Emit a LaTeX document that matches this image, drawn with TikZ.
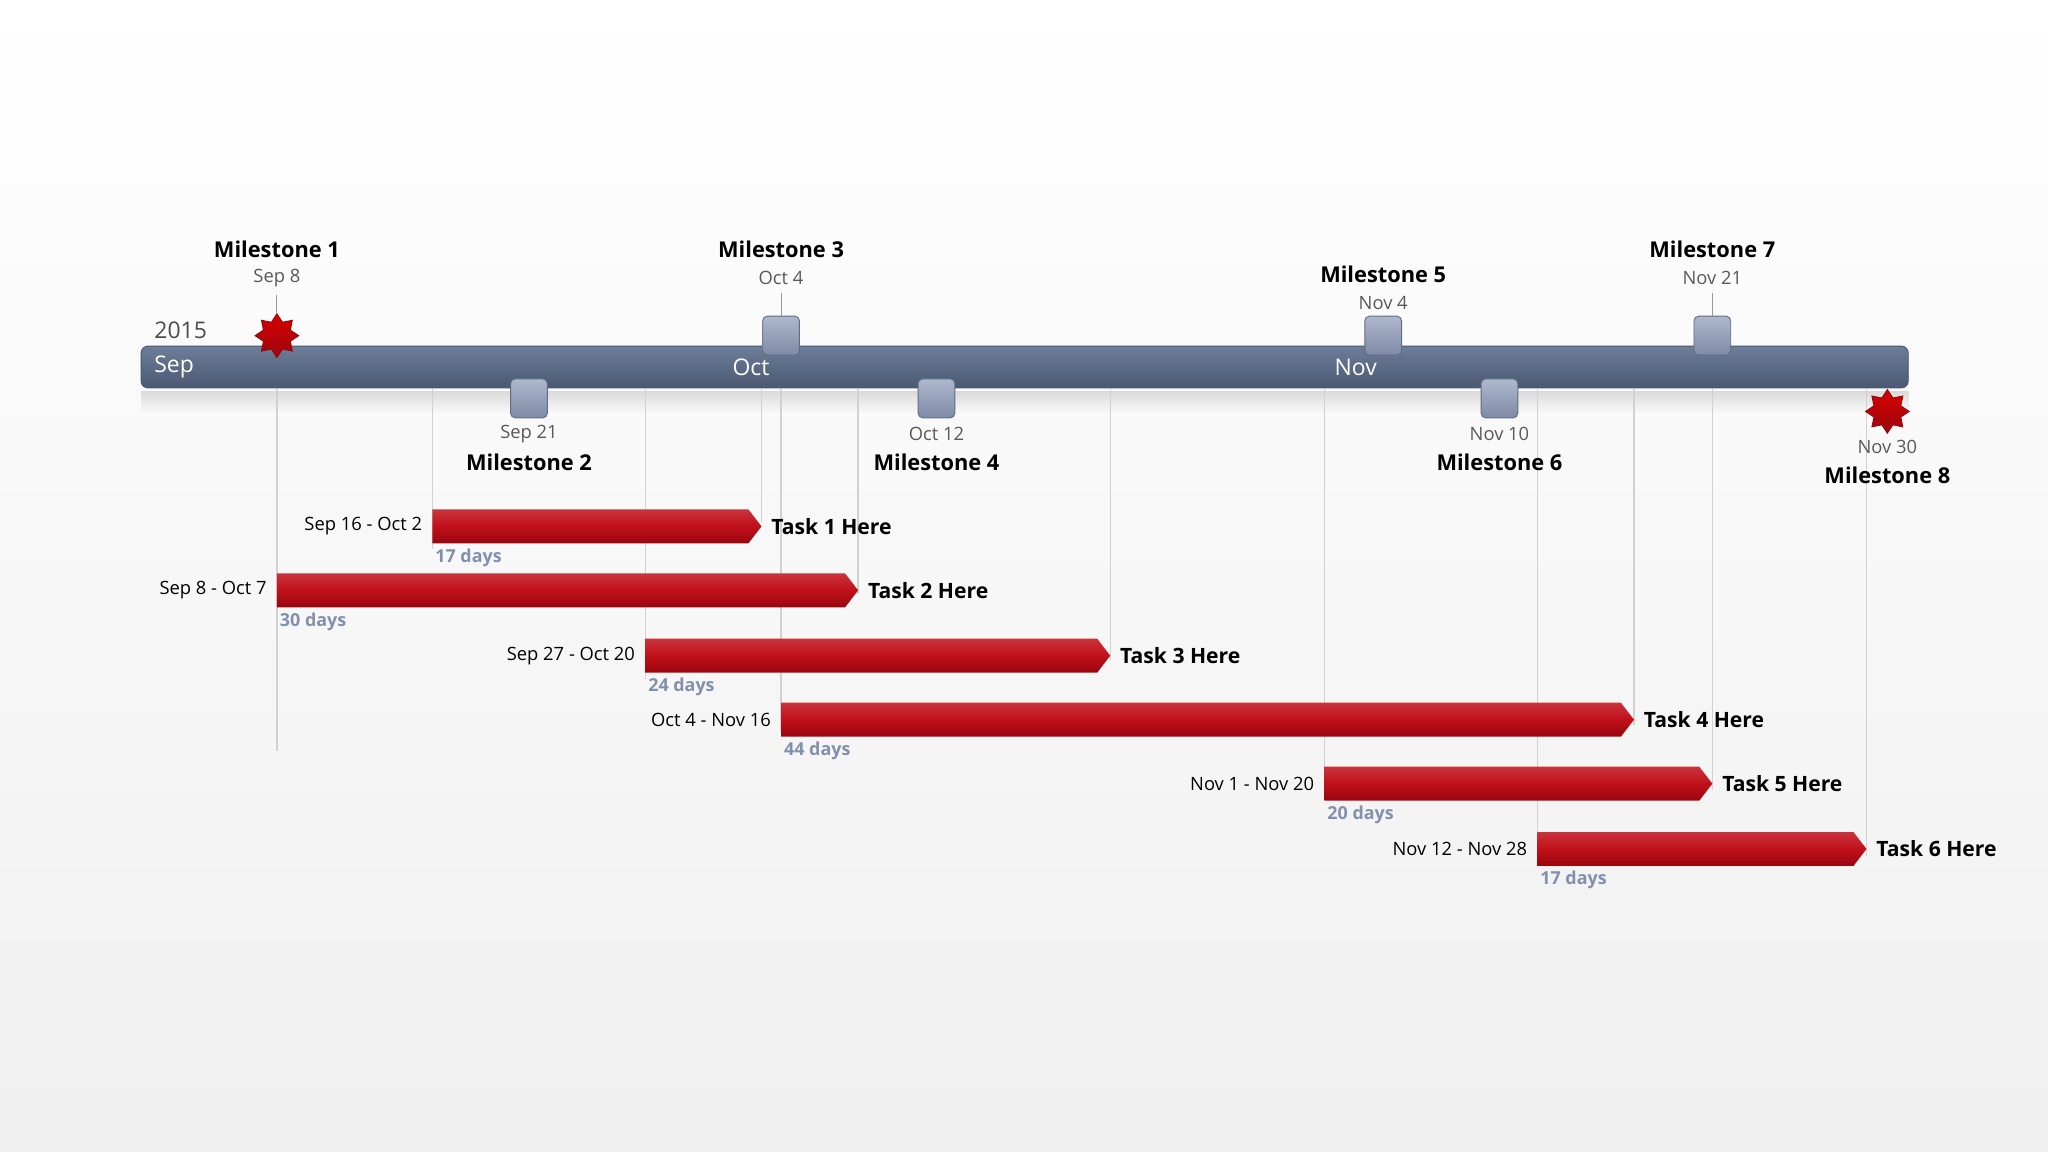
\documentclass[tikz,border=0pt]{standalone}
\usepackage{fontspec}
\setmainfont{Open Sans}
\usetikzlibrary{shapes.geometric}
\definecolor{taskred}{HTML}{C0101A}
\definecolor{taskdark}{HTML}{98060E}
\definecolor{bartop}{HTML}{6E7E98}
\definecolor{barbot}{HTML}{4A5872}
\definecolor{msblue}{HTML}{8C9AB8}
\definecolor{daygray}{HTML}{8390AC}
\tikzset{
  msname/.style={font=\bfseries\fontsize{9.5}{11}\selectfont, text=black},
  msdate/.style={font=\fontsize{8}{10}\selectfont, text=black!65},
  tdate/.style={font=\fontsize{8}{10}\selectfont, anchor=east, inner sep=2pt},
  tname/.style={font=\bfseries\fontsize{9.2}{11}\selectfont, anchor=west, inner sep=3pt},
  tdays/.style={font=\bfseries\fontsize{7.8}{9}\selectfont, text=daygray, anchor=west, inner sep=0pt},
  guide/.style={black!18, line width=0.6pt},
  redstar/.style={star, star points=8, star point ratio=1.5, minimum size=19pt, inner sep=0pt,
    draw=taskdark, top color=red!85!black, bottom color=taskdark},
  msbox/.style={rectangle, rounded corners=2pt, minimum width=16pt, minimum height=17pt, inner sep=0pt,
    draw=msblue!70!black, top color=msblue!70!white, bottom color=msblue!90!black}
}
\begin{document}
\begin{tikzpicture}[x=0.02cm,y=-0.02cm]
\useasboundingbox (0,0) rectangle (1568,882);
\shade[top color=white, bottom color=black!6] (0,0) rectangle (1568,882);

% timeline bar
\shade[top color=black!14, bottom color=black!1] (108,300) rectangle (1461,318);
\shade[top color=bartop, bottom color=barbot, rounded corners=3pt, draw=barbot]
  (108,265) rectangle (1461,297);
\node[anchor=west, text=white, font=\fontsize{10}{12}\selectfont] (sep) at (112,281) {Sep};
\node[text=white, font=\fontsize{10}{12}\selectfont] (oct) at (575,281) {Oct};
\node[text=white, font=\fontsize{10}{12}\selectfont] (nov) at (1038,281) {Nov};
\node[anchor=west, text=black!70, font=\fontsize{10}{12}\selectfont] (year) at (112,253) {2015};

% guide lines
\foreach \gx/\gy in {212/575,331/420,494/520,583/400,598/560,657/455,850/505,1014/610,1177/660,1251/555,1311/605,1429/655}
  \draw[guide] (\gx,298) -- (\gx,\gy);

% milestones above
\foreach \i/\mx/\my/\md/\shp in {1/212/191/Sep 8/redstar,3/598/191/Oct 4/msbox,5/1059/210/Nov 4/msbox,7/1311/191/Nov 21/msbox}{
  \node[msname] (m\i) at (\mx,\my) {Milestone \i};
  \node[msdate] (d\i) at (\mx,\my+22) {\md};
  \node[\shp] (s\i) at (\mx,257) {};
  \draw[black!40] (d\i.south) -- (s\i);
}
% milestones below
\foreach \i/\mx/\my/\md/\shp in {2/405/354/Sep 21/msbox,4/717/354/Oct 12/msbox,6/1148/354/Nov 10/msbox,8/1445/364/Nov 30/redstar}{
  \node[\shp] (s\i) at (\mx,\my-49) {};
  \node[msdate] (d\i) at (\mx,\my-22) {\md};
  \node[msname] (m\i) at (\mx,\my) {Milestone \i};
}

% tasks
\foreach \i/\ts/\te/\ty/\tr/\td in {1/331/583/403/Sep 16 - Oct 2/17,2/212/657/452/Sep 8 - Oct 7/30,3/494/850/502/Sep 27 - Oct 20/24,4/598/1251/551/Oct 4 - Nov 16/44,5/1014/1311/600/Nov 1 - Nov 20/20,6/1177/1429/650/Nov 12 - Nov 28/17}{
  \shade[top color=taskred!85!white, bottom color=taskdark, middle color=taskred]
    (\ts,\ty-13) -- (\te-10,\ty-13) -- (\te,\ty) -- (\te-10,\ty+13) -- (\ts,\ty+13) -- cycle;
  \node[tdate] (r\i) at (\ts-4,\ty) {\tr};
  \node[tname] (t\i) at (\te+2,\ty) {Task \i\ Here};
  \node[tdays] (n\i) at (\ts+2,\ty+24) {\td\ days};
}
\end{tikzpicture}
\end{document}
